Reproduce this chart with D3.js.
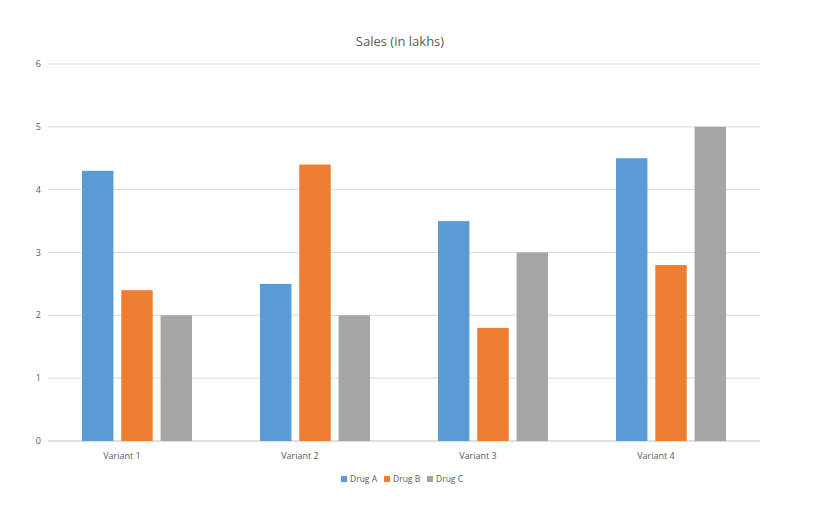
<!DOCTYPE html>
<html>
<head>
<meta charset="utf-8">
<script src="https://cdn.jsdelivr.net/npm/d3@7"></script>
<style>
  body { margin: 0; background: #fff; }
  text { font-family: "Segoe UI", "Open Sans", "DejaVu Sans", sans-serif; fill: #595959; }
</style>
</head>
<body>
<svg width="830" height="522"></svg>
<script>
const categories = ['Variant 1', 'Variant 2', 'Variant 3', 'Variant 4'];
const series = ['Drug A', 'Drug B', 'Drug C'];
const drugA = [4.3, 2.5, 3.5, 4.5];
const drugB = [2.4, 4.4, 1.8, 2.8];
const drugC = [2.0, 2.0, 3.0, 5.0];
const yTicks = [0, 1, 2, 3, 4, 5, 6];
const colors = ['#5B9BD5', '#ED7D31', '#A5A5A5'];

const values = [drugA, drugB, drugC];
const svg = d3.select('svg');
const plotLeft = 48, plotRight = 760, plotTop = 64, plotBottom = 441;

const x0 = d3.scaleBand().domain(categories).range([plotLeft, plotRight]);
const x1 = d3.scaleBand().domain(series).range([34, 144]).paddingInner(0.2);
const y = d3.scaleLinear().domain([0, 6]).range([plotBottom, plotTop]);

// gridlines
svg.append('g')
  .selectAll('line')
  .data(yTicks)
  .join('line')
  .attr('x1', plotLeft).attr('x2', plotRight)
  .attr('y1', d => y(d)).attr('y2', d => y(d))
  .attr('stroke', d => d === 0 ? '#BFBFBF' : '#D9D9D9')
  .attr('stroke-width', 1);

// y labels
svg.append('g')
  .selectAll('text')
  .data(yTicks)
  .join('text')
  .attr('x', 41).attr('y', d => y(d) + 3)
  .attr('text-anchor', 'end')
  .attr('font-size', 9)
  .text(d => d);

// bars
const groups = svg.append('g')
  .selectAll('g')
  .data(categories)
  .join('g')
  .attr('transform', d => `translate(${x0(d)},0)`);

groups.selectAll('rect')
  .data((d, i) => series.map((s, j) => ({ s, j, v: values[j][i] })))
  .join('rect')
  .attr('x', d => x1(d.s))
  .attr('width', x1.bandwidth())
  .attr('y', d => y(d.v))
  .attr('height', d => y(0) - y(d.v))
  .attr('fill', d => colors[d.j]);

// x labels
svg.append('g')
  .selectAll('text')
  .data(categories)
  .join('text')
  .attr('x', d => x0(d) + x0.bandwidth() / 2 - 15)
  .attr('y', 459)
  .attr('text-anchor', 'middle')
  .attr('font-size', 9)
  .text(d => d);

// title
svg.append('text')
  .attr('x', 400).attr('y', 46)
  .attr('text-anchor', 'middle')
  .attr('font-size', 13)
  .text('Sales (in lakhs)');

// legend
const legend = svg.append('g').attr('transform', 'translate(341,482)');
const items = legend.selectAll('g')
  .data(series)
  .join('g')
  .attr('transform', (d, i) => `translate(${i * 43},0)`);
items.append('rect')
  .attr('x', 0).attr('y', -6)
  .attr('width', 6).attr('height', 6)
  .attr('fill', (d, i) => colors[i]);
items.append('text')
  .attr('x', 9).attr('y', 0)
  .attr('font-size', 8.5)
  .text(d => d);
</script>
</body>
</html>
